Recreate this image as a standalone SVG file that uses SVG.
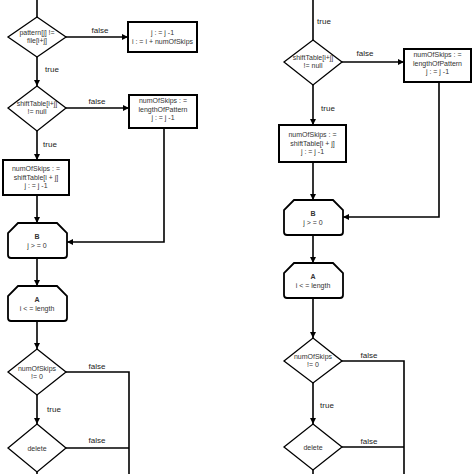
<svg xmlns="http://www.w3.org/2000/svg" width="474" height="474" viewBox="0 0 474 474">
<style>
.shape{fill:#fff;stroke:#000;stroke-width:1.3}
.box{fill:#fff;stroke:#000;stroke-width:2}
.t{font-family:"Liberation Sans",Arial,sans-serif;font-size:7px;fill:#333;text-anchor:middle}
.b{font-weight:bold}
.lbl{font-family:"Liberation Sans",Arial,sans-serif;font-size:8px;fill:#222;text-anchor:middle}
.c{fill:none;stroke:#000;stroke-width:1.6}
.ca{fill:none;stroke:#000;stroke-width:1.6;marker-end:url(#ah)}
</style>
<defs>
<marker id="ah" markerWidth="6" markerHeight="6" refX="6" refY="3" orient="auto" markerUnits="userSpaceOnUse">
<path d="M0,0 L6,3 L0,6 Z" fill="#000"/>
</marker>
<path id="hex" d="M10,0 L49,0 L59,10 L59,32 Q59,35 56,35 L3,35 Q0,35 0,32 L0,10 Z"/>
</defs>
<rect width="474" height="474" fill="#fff"/>
<g id="connectors">
<path class="c" d="M37,0 L37,17"/>
<path class="ca" d="M66,37 L128,37"/>
<path class="ca" d="M37,57 L37,86"/>
<path class="ca" d="M66,108 L129,108"/>
<path class="ca" d="M164,128 L164,242 L67,242"/>
<path class="ca" d="M37,131 L37,160"/>
<path class="ca" d="M37,195 L37,223"/>
<path class="ca" d="M37,258 L37,286"/>
<path class="ca" d="M37,321 L37,349"/>
<path class="c" d="M66,372 L129,372 L129,474"/>
<path class="ca" d="M37,395 L37,424"/>
<path class="c" d="M66,448 L129,448"/>
<path class="c" d="M37,472 L37,474"/>
<path class="c" d="M313,0 L313,40"/>
<path class="ca" d="M342,62 L404,62"/>
<path class="ca" d="M439,82 L439,217 L343,217"/>
<path class="ca" d="M313,85 L313,125"/>
<path class="ca" d="M313,162 L313,200"/>
<path class="ca" d="M313,235 L313,263"/>
<path class="ca" d="M313,298 L313,338"/>
<path class="c" d="M342,361 L404,361 L404,474"/>
<path class="ca" d="M313,383 L313,424"/>
<path class="c" d="M342,447 L404,447"/>
<path class="c" d="M313,470 L313,474"/>
<text class="lbl" x="100" y="33">false</text>
<text class="lbl" x="52" y="72">true</text>
<text class="lbl" x="97" y="104">false</text>
<text class="lbl" x="50" y="147">true</text>
<text class="lbl" x="97" y="369">false</text>
<text class="lbl" x="54" y="412">true</text>
<text class="lbl" x="97" y="443">false</text>
<text class="lbl" x="324" y="24">true</text>
<text class="lbl" x="365" y="56">false</text>
<text class="lbl" x="328" y="111">true</text>
<text class="lbl" x="369" y="358">false</text>
<text class="lbl" x="327" y="408">true</text>
<text class="lbl" x="369" y="444">false</text>
</g>
<g id="L-d1"><polygon class="shape" points="37,17 66,37 37,57 8,37"/><text class="t" x="37" y="35">pattern[j] !=</text><text class="t" x="37" y="43">file[i+j]</text></g>
<g id="L-box1"><rect class="box" x="128" y="22" width="69" height="30"/><text class="t" x="162.5" y="35">j : = j -1</text><text class="t" x="162.5" y="43.5">i : = i + numOfSkips</text></g>
<g id="L-d2"><polygon class="shape" points="37,86 66,108 37,131 8,108"/><text class="t" x="37" y="106">shiftTable[i+j]</text><text class="t" x="37" y="114">!= null</text></g>
<g id="L-box2"><rect class="box" x="129" y="95" width="68" height="33"/><text class="t" x="163" y="103">numOfSkips : =</text><text class="t" x="163" y="111.5">lengthOfPattern</text><text class="t" x="163" y="120">j : = j -1</text></g>
<g id="L-box3"><rect class="box" x="3" y="160" width="66" height="35"/><text class="t" x="36" y="171">numOfSkips : =</text><text class="t" x="36" y="179.5">shiftTable[i + j]</text><text class="t" x="36" y="188">j : = j -1</text></g>
<g id="L-B"><use href="#hex" x="8" y="223" class="box" style="stroke-width:1.8"/><text class="t b" x="37" y="239">B</text><text class="t" x="37" y="247.5">j &gt; = 0</text></g>
<g id="L-A"><use href="#hex" x="8" y="286" class="box" style="stroke-width:1.8"/><text class="t b" x="37" y="302">A</text><text class="t" x="37" y="310.5">i &lt; = length</text></g>
<g id="L-d3"><polygon class="shape" points="37,349 66,372 37,395 8,372"/><text class="t" x="37" y="371">numOfSkips</text><text class="t" x="37" y="379">!= 0</text></g>
<g id="L-d4"><polygon class="shape" points="37,424 66,448 37,472 8,448"/><text class="t" x="37" y="450.5">delete</text></g>
<g id="R-d1"><polygon class="shape" points="313,40 342,62 313,85 284,62"/><text class="t" x="313" y="60">shiftTable[i+j]</text><text class="t" x="313" y="68">!= null</text></g>
<g id="R-box2"><rect class="box" x="404" y="49" width="67" height="33"/><text class="t" x="437.5" y="57">numOfSkips : =</text><text class="t" x="437.5" y="65.5">lengthOfPattern</text><text class="t" x="437.5" y="74">j : = j -1</text></g>
<g id="R-box3"><rect class="box" x="279" y="125" width="67" height="37"/><text class="t" x="312.5" y="137">numOfSkips : =</text><text class="t" x="312.5" y="145.5">shiftTable[i + j]</text><text class="t" x="312.5" y="154">j : = j -1</text></g>
<g id="R-B"><use href="#hex" x="284" y="200" class="box" style="stroke-width:1.8"/><text class="t b" x="313" y="216">B</text><text class="t" x="313" y="224.5">j &gt; = 0</text></g>
<g id="R-A"><use href="#hex" x="284" y="263" class="box" style="stroke-width:1.8"/><text class="t b" x="313" y="279">A</text><text class="t" x="313" y="287.5">i &lt; = length</text></g>
<g id="R-d3"><polygon class="shape" points="313,338 342,361 313,383 284,361"/><text class="t" x="313" y="359">numOfSkips</text><text class="t" x="313" y="367">!= 0</text></g>
<g id="R-d4"><polygon class="shape" points="313,424 342,447 313,470 284,447"/><text class="t" x="313" y="449.5">delete</text></g>
</svg>
